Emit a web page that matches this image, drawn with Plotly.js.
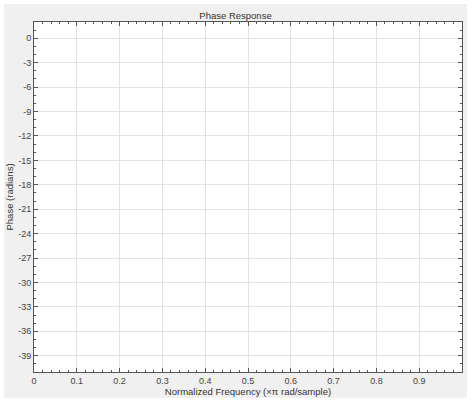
<!DOCTYPE html>
<html>
<head>
<meta charset="utf-8">
<script src="https://cdn.plot.ly/plotly-3.0.1.min.js"></script>
<style>
  html, body { margin: 0; padding: 0; background: #fff; }
  #frame { position: absolute; left: 4px; top: 4px; width: 463px; height: 394px; background: #f0f0f0; }
  #plot { width: 463px; height: 394px; }
</style>
</head>
<body>
<div id="frame"><div id="plot"></div></div>
<script>
// the response is empty in the reference, nothing is plotted
const freq = [];
const phase = [];

const xTickVals = [0, 0.1, 0.2, 0.3, 0.4, 0.5, 0.6, 0.7, 0.8, 0.9];
const xTickText = ['0', '0.1', '0.2', '0.3', '0.4', '0.5', '0.6', '0.7', '0.8', '0.9'];
const yTickVals = [0, -3, -6, -9, -12, -15, -18, -21, -24, -27, -30, -33, -36, -39];
const yTickText = yTickVals.map(v => String(v));

const font = 'Liberation Sans, Arial, sans-serif';

const axisBase = {
  showline: true,
  linecolor: '#555',
  linewidth: 1,
  mirror: 'allticks',
  ticks: 'inside',
  ticklen: 4,
  tickcolor: '#555',
  showgrid: true,
  gridcolor: '#e3e3e3',
  zeroline: false,
  tickfont: { family: font, size: 9, color: '#444' },
  fixedrange: true
};

const layout = {
  paper_bgcolor: 'rgba(0,0,0,0)',
  plot_bgcolor: '#ffffff',
  margin: { l: 30, r: 5, t: 18, b: 26 },
  showlegend: false,
  title: {
    text: 'Phase Response',
    font: { family: font, size: 9.5, color: '#333' },
    x: 0.5, xanchor: 'center',
    y: 1, yref: 'paper', yanchor: 'bottom', pad: { b: 3 }
  },
  xaxis: Object.assign({}, axisBase, {
    range: [0, 1],
    tickmode: 'array',
    tickvals: xTickVals,
    ticktext: xTickText,
    minor: { dtick: 0.02, ticks: 'inside', ticklen: 2, tickcolor: '#555', showgrid: false },
    title: { text: 'Normalized Frequency (\u00d7\u03c0 rad/sample)', font: { family: font, size: 9.5, color: '#333' }, standoff: 2 }
  }),
  yaxis: Object.assign({}, axisBase, {
    range: [-41, 2],
    tickmode: 'array',
    tickvals: yTickVals,
    ticktext: yTickText,
    minor: { dtick: 1, ticks: 'inside', ticklen: 2, tickcolor: '#555', showgrid: false },
    title: { text: 'Phase (radians)', font: { family: font, size: 9.5, color: '#333' }, standoff: 4 }
  })
};

Plotly.newPlot('plot', [{
  x: freq,
  y: phase,
  type: 'scatter',
  mode: 'lines',
  line: { color: '#0072bd', width: 1 }
}], layout, { displayModeBar: false, staticPlot: true });
</script>
</body>
</html>
